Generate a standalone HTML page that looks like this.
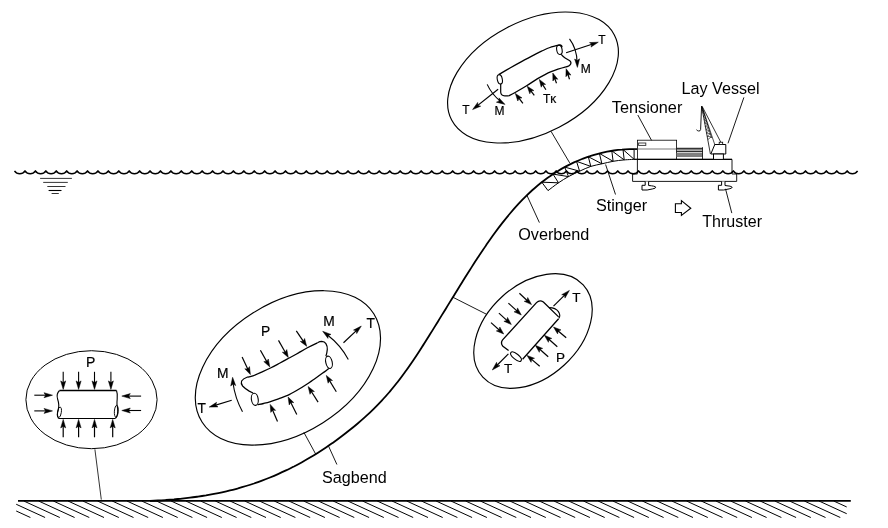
<!DOCTYPE html>
<html><head><meta charset="utf-8"><title>Pipeline laying</title>
<style>
html,body{margin:0;padding:0;background:#fff;}
body{width:888px;height:528px;overflow:hidden;font-family:"Liberation Sans",sans-serif;}
svg{display:block;will-change:transform;}
svg line, svg path, svg ellipse, svg rect{stroke:#000;stroke-linecap:butt;}
svg text{font-family:"Liberation Sans",sans-serif;fill:#000;stroke:none;}
svg text.s{stroke:#000;stroke-width:0.2px;}
</style></head><body>
<svg width="888" height="528" viewBox="0 0 888 528">
<rect x="0" y="0" width="888" height="528" fill="#fff" stroke="none" style="stroke:none"/>
<path d="M14.50 170.90 C17.12 174.85 22.38 174.85 25.00 170.90 C27.61 174.85 32.81 174.85 35.42 170.90 C38.03 174.85 43.23 174.85 45.84 170.90 C48.45 174.85 53.66 174.85 56.26 170.90 C58.87 174.85 64.08 174.85 66.68 170.90 C69.28 174.85 74.50 174.85 77.10 170.90 C79.70 174.85 84.91 174.85 87.52 170.90 C90.12 174.85 95.33 174.85 97.94 170.90 C100.55 174.85 105.75 174.85 108.36 170.90 C110.97 174.85 116.17 174.85 118.78 170.90 C121.38 174.85 126.59 174.85 129.20 170.90 C131.81 174.85 137.01 174.85 139.62 170.90 C142.22 174.85 147.44 174.85 150.04 170.90 C152.64 174.85 157.85 174.85 160.46 170.90 C163.06 174.85 168.27 174.85 170.88 170.90 C173.49 174.85 178.69 174.85 181.30 170.90 C183.91 174.85 189.12 174.85 191.72 170.90 C194.32 174.85 199.53 174.85 202.14 170.90 C204.74 174.85 209.95 174.85 212.56 170.90 C215.16 174.85 220.38 174.85 222.98 170.90 C225.59 174.85 230.80 174.85 233.40 170.90 C236.00 174.85 241.22 174.85 243.82 170.90 C246.42 174.85 251.63 174.85 254.24 170.90 C256.84 174.85 262.05 174.85 264.66 170.90 C267.26 174.85 272.47 174.85 275.08 170.90 C277.69 174.85 282.89 174.85 285.50 170.90 C288.11 174.85 293.31 174.85 295.92 170.90 C298.52 174.85 303.73 174.85 306.34 170.90 C308.94 174.85 314.15 174.85 316.76 170.90 C319.37 174.85 324.57 174.85 327.18 170.90 C329.79 174.85 335.00 174.85 337.60 170.90 C340.21 174.85 345.41 174.85 348.02 170.90 C350.62 174.85 355.83 174.85 358.44 170.90 C361.05 174.85 366.25 174.85 368.86 170.90 C371.47 174.85 376.67 174.85 379.28 170.90 C381.88 174.85 387.09 174.85 389.70 170.90 C392.32 174.85 397.57 174.85 400.19 170.90 C402.81 174.85 408.06 174.85 410.68 170.90 C413.30 174.85 418.55 174.85 421.17 170.90 C423.79 174.85 429.04 174.85 431.66 170.90 C434.28 174.85 439.53 174.85 442.15 170.90 C444.77 174.85 450.02 174.85 452.64 170.90 C455.26 174.85 460.51 174.85 463.13 170.90 C465.75 174.85 471.00 174.85 473.62 170.90 C476.24 174.85 481.49 174.85 484.11 170.90 C486.73 174.85 491.98 174.85 494.60 170.90 C497.17 174.85 502.30 174.85 504.86 170.90 C507.43 174.85 512.56 174.85 515.12 170.90 C517.69 174.85 522.82 174.85 525.38 170.90 C527.95 174.85 533.08 174.85 535.65 170.90 C538.21 174.85 543.34 174.85 545.91 170.90 C548.47 174.85 553.60 174.85 556.17 170.90 C558.73 174.85 563.87 174.85 566.43 170.90 C569.00 174.85 574.13 174.85 576.69 170.90 C579.26 174.85 584.39 174.85 586.95 170.90 C589.52 174.85 594.65 174.85 597.22 170.90 C599.78 174.85 604.91 174.85 607.48 170.90 C610.04 174.85 615.17 174.85 617.74 170.90 C620.30 174.85 625.43 174.85 628.00 170.90 C630.63 174.85 635.90 174.85 638.54 170.90 C641.17 174.85 646.44 174.85 649.07 170.90 C651.71 174.85 656.98 174.85 659.61 170.90 C662.24 174.85 667.51 174.85 670.15 170.90 C672.78 174.85 678.05 174.85 680.68 170.90 C683.32 174.85 688.58 174.85 691.22 170.90 C693.85 174.85 699.12 174.85 701.75 170.90 C704.39 174.85 709.66 174.85 712.29 170.90 C714.92 174.85 720.19 174.85 722.83 170.90 C725.46 174.85 730.73 174.85 733.36 170.90 C736.00 174.85 741.27 174.85 743.90 170.90 C746.39 174.85 751.36 174.85 753.85 170.90 C756.34 174.85 761.31 174.85 763.80 170.90 C766.41 174.85 771.62 174.85 774.22 170.90 C776.83 174.85 782.04 174.85 784.64 170.90 C787.25 174.85 792.46 174.85 795.07 170.90 C797.67 174.85 802.88 174.85 805.49 170.90 C808.09 174.85 813.31 174.85 815.91 170.90 C818.52 174.85 823.73 174.85 826.33 170.90 C828.94 174.85 834.15 174.85 836.76 170.90 C839.36 174.85 844.57 174.85 847.18 170.90 C849.78 174.85 854.99 174.85 857.60 170.90" stroke-width="1.5" fill="none" stroke-linejoin="round"/>
<line x1="40.1" y1="178.4" x2="71.9" y2="178.4" stroke-width="0.80" stroke="#333"/>
<line x1="43.2" y1="182.4" x2="67.8" y2="182.4" stroke-width="0.80" stroke="#333"/>
<line x1="47.3" y1="186.5" x2="65.5" y2="186.5" stroke-width="0.80" stroke="#333"/>
<line x1="48.6" y1="190.5" x2="61.5" y2="190.5" stroke-width="1.10" stroke="#333"/>
<line x1="51.6" y1="193.5" x2="58.8" y2="193.5" stroke-width="0.80" stroke="#333"/>
<line x1="18.0" y1="500.8" x2="850.8" y2="500.8" stroke-width="1.70" />
<clipPath id="sb"><rect x="16.2" y="500" width="830.5" height="18"/></clipPath>
<g clip-path="url(#sb)">
<line x1="-49.8" y1="501.0" x2="-13.8" y2="517.5" stroke-width="1.00" />
<line x1="-35.0" y1="501.0" x2="0.9" y2="517.5" stroke-width="1.00" />
<line x1="-20.3" y1="501.0" x2="15.7" y2="517.5" stroke-width="1.00" />
<line x1="-5.6" y1="501.0" x2="30.4" y2="517.5" stroke-width="1.00" />
<line x1="9.1" y1="501.0" x2="45.1" y2="517.5" stroke-width="1.00" />
<line x1="23.8" y1="501.0" x2="59.8" y2="517.5" stroke-width="1.00" />
<line x1="38.6" y1="501.0" x2="74.6" y2="517.5" stroke-width="1.00" />
<line x1="53.3" y1="501.0" x2="89.3" y2="517.5" stroke-width="1.00" />
<line x1="68.0" y1="501.0" x2="104.0" y2="517.5" stroke-width="1.00" />
<line x1="82.8" y1="501.0" x2="118.8" y2="517.5" stroke-width="1.00" />
<line x1="97.5" y1="501.0" x2="133.5" y2="517.5" stroke-width="1.00" />
<line x1="112.2" y1="501.0" x2="148.2" y2="517.5" stroke-width="1.00" />
<line x1="126.9" y1="501.0" x2="162.9" y2="517.5" stroke-width="1.00" />
<line x1="141.7" y1="501.0" x2="177.7" y2="517.5" stroke-width="1.00" />
<line x1="156.4" y1="501.0" x2="192.4" y2="517.5" stroke-width="1.00" />
<line x1="171.1" y1="501.0" x2="207.1" y2="517.5" stroke-width="1.00" />
<line x1="185.8" y1="501.0" x2="221.8" y2="517.5" stroke-width="1.00" />
<line x1="200.6" y1="501.0" x2="236.6" y2="517.5" stroke-width="1.00" />
<line x1="215.3" y1="501.0" x2="251.3" y2="517.5" stroke-width="1.00" />
<line x1="230.0" y1="501.0" x2="266.0" y2="517.5" stroke-width="1.00" />
<line x1="244.7" y1="501.0" x2="280.7" y2="517.5" stroke-width="1.00" />
<line x1="259.4" y1="501.0" x2="295.4" y2="517.5" stroke-width="1.00" />
<line x1="274.2" y1="501.0" x2="310.2" y2="517.5" stroke-width="1.00" />
<line x1="288.9" y1="501.0" x2="324.9" y2="517.5" stroke-width="1.00" />
<line x1="303.6" y1="501.0" x2="339.6" y2="517.5" stroke-width="1.00" />
<line x1="318.3" y1="501.0" x2="354.3" y2="517.5" stroke-width="1.00" />
<line x1="333.1" y1="501.0" x2="369.1" y2="517.5" stroke-width="1.00" />
<line x1="347.8" y1="501.0" x2="383.8" y2="517.5" stroke-width="1.00" />
<line x1="362.5" y1="501.0" x2="398.5" y2="517.5" stroke-width="1.00" />
<line x1="377.2" y1="501.0" x2="413.2" y2="517.5" stroke-width="1.00" />
<line x1="392.0" y1="501.0" x2="428.0" y2="517.5" stroke-width="1.00" />
<line x1="406.7" y1="501.0" x2="442.7" y2="517.5" stroke-width="1.00" />
<line x1="421.4" y1="501.0" x2="457.4" y2="517.5" stroke-width="1.00" />
<line x1="436.1" y1="501.0" x2="472.1" y2="517.5" stroke-width="1.00" />
<line x1="450.9" y1="501.0" x2="486.9" y2="517.5" stroke-width="1.00" />
<line x1="465.6" y1="501.0" x2="501.6" y2="517.5" stroke-width="1.00" />
<line x1="480.3" y1="501.0" x2="516.3" y2="517.5" stroke-width="1.00" />
<line x1="495.0" y1="501.0" x2="531.0" y2="517.5" stroke-width="1.00" />
<line x1="509.8" y1="501.0" x2="545.8" y2="517.5" stroke-width="1.00" />
<line x1="524.5" y1="501.0" x2="560.5" y2="517.5" stroke-width="1.00" />
<line x1="539.2" y1="501.0" x2="575.2" y2="517.5" stroke-width="1.00" />
<line x1="553.9" y1="501.0" x2="589.9" y2="517.5" stroke-width="1.00" />
<line x1="568.7" y1="501.0" x2="604.7" y2="517.5" stroke-width="1.00" />
<line x1="583.4" y1="501.0" x2="619.4" y2="517.5" stroke-width="1.00" />
<line x1="598.1" y1="501.0" x2="634.1" y2="517.5" stroke-width="1.00" />
<line x1="612.8" y1="501.0" x2="648.8" y2="517.5" stroke-width="1.00" />
<line x1="627.6" y1="501.0" x2="663.6" y2="517.5" stroke-width="1.00" />
<line x1="642.3" y1="501.0" x2="678.3" y2="517.5" stroke-width="1.00" />
<line x1="657.0" y1="501.0" x2="693.0" y2="517.5" stroke-width="1.00" />
<line x1="671.8" y1="501.0" x2="707.8" y2="517.5" stroke-width="1.00" />
<line x1="686.5" y1="501.0" x2="722.5" y2="517.5" stroke-width="1.00" />
<line x1="701.2" y1="501.0" x2="737.2" y2="517.5" stroke-width="1.00" />
<line x1="715.9" y1="501.0" x2="751.9" y2="517.5" stroke-width="1.00" />
<line x1="730.6" y1="501.0" x2="766.6" y2="517.5" stroke-width="1.00" />
<line x1="745.4" y1="501.0" x2="781.4" y2="517.5" stroke-width="1.00" />
<line x1="760.1" y1="501.0" x2="796.1" y2="517.5" stroke-width="1.00" />
<line x1="774.8" y1="501.0" x2="810.8" y2="517.5" stroke-width="1.00" />
<line x1="789.5" y1="501.0" x2="825.5" y2="517.5" stroke-width="1.00" />
<line x1="804.3" y1="501.0" x2="840.3" y2="517.5" stroke-width="1.00" />
<line x1="819.0" y1="501.0" x2="855.0" y2="517.5" stroke-width="1.00" />
<line x1="833.7" y1="501.0" x2="869.7" y2="517.5" stroke-width="1.00" />
<line x1="848.4" y1="501.0" x2="884.4" y2="517.5" stroke-width="1.00" />
</g>
<path d="M150.0 500.8 C151.3 500.8 155.3 500.7 158.0 500.5 C160.7 500.4 163.3 500.2 166.0 500.0 C168.7 499.8 171.3 499.6 174.0 499.4 C176.7 499.1 179.3 498.9 182.0 498.6 C184.7 498.3 187.3 498.0 190.0 497.7 C192.7 497.4 195.3 497.0 198.0 496.6 C200.7 496.2 203.3 495.8 206.0 495.4 C208.7 494.9 211.3 494.4 214.0 493.9 C216.7 493.4 219.3 492.9 222.0 492.3 C224.7 491.7 227.3 491.1 230.0 490.4 C232.7 489.8 235.3 489.1 238.0 488.4 C240.7 487.6 243.3 486.8 246.0 486.0 C248.7 485.2 251.3 484.4 254.0 483.5 C256.7 482.5 259.3 481.6 262.0 480.6 C264.7 479.6 267.3 478.6 270.0 477.5 C272.7 476.4 275.3 475.3 278.0 474.1 C280.7 472.9 283.3 471.7 286.0 470.4 C288.7 469.2 291.3 467.8 294.0 466.5 C296.7 465.1 299.3 463.7 302.0 462.2 C304.7 460.7 307.3 459.2 310.0 457.6 C312.7 456.0 315.3 454.4 318.0 452.7 C320.7 451.0 323.3 449.3 326.0 447.5 C328.7 445.7 331.3 443.8 334.0 441.9 C336.7 440.0 339.3 438.1 342.0 436.0 C344.7 434.0 347.3 432.0 350.0 429.8 C352.7 427.7 355.3 425.5 358.0 423.2 C360.7 421.0 363.3 418.6 366.0 416.2 C368.7 413.8 371.3 411.3 374.0 408.6 C376.7 406.0 379.3 403.3 382.0 400.4 C384.7 397.5 387.3 394.5 390.0 391.4 C392.7 388.2 395.3 384.9 398.0 381.5 C400.7 378.0 403.3 374.4 406.0 370.7 C408.7 367.0 411.3 363.1 414.0 359.2 C416.7 355.2 419.3 351.1 422.0 347.0 C424.7 342.9 427.3 338.6 430.0 334.3 C432.7 330.1 435.3 325.7 438.0 321.4 C440.7 317.1 443.3 312.7 446.0 308.4 C448.7 304.1 451.3 299.7 454.0 295.4 C456.7 291.1 459.3 286.7 462.0 282.5 C464.7 278.2 467.3 273.9 470.0 269.7 C472.7 265.5 475.3 261.4 478.0 257.3 C480.7 253.2 483.3 249.2 486.0 245.4 C488.7 241.5 491.3 237.7 494.0 234.0 C496.7 230.3 499.3 226.8 502.0 223.4 C504.7 219.9 507.3 216.6 510.0 213.5 C512.7 210.3 515.3 207.3 518.0 204.4 C520.7 201.5 523.3 198.7 526.0 196.1 C528.7 193.5 531.3 191.0 534.0 188.7 C536.7 186.3 539.3 184.1 542.0 182.0 C544.7 180.0 547.3 178.0 550.0 176.2 C552.7 174.3 555.3 172.6 558.0 171.0 C560.7 169.3 563.3 167.8 566.0 166.4 C568.7 165.0 571.3 163.7 574.0 162.4 C576.7 161.2 579.3 160.1 582.0 159.0 C584.7 158.0 587.3 157.0 590.0 156.2 C592.7 155.3 595.3 154.5 598.0 153.8 C600.7 153.1 603.3 152.5 606.0 151.9 C608.7 151.4 611.3 150.9 614.0 150.5 C616.7 150.1 619.3 149.8 622.0 149.6 C624.7 149.3 627.5 149.2 630.0 149.1 C632.5 149.0 636.0 149.1 637.2 149.1" stroke-width="1.8" fill="none"/>
<path d="M548.0 190.6 C549.8 189.3 555.1 185.1 558.5 182.8 C561.9 180.5 565.0 178.5 568.5 176.6 C572.0 174.7 575.9 172.9 579.6 171.2 C583.3 169.5 587.1 167.6 590.8 166.4 C594.5 165.2 598.2 164.7 601.9 163.8 C605.6 163.0 609.4 162.0 613.1 161.3 C616.8 160.7 620.2 160.2 624.2 159.9 C628.2 159.6 635.0 159.3 637.2 159.2" stroke-width="1.0" fill="none"/>
<line x1="541.8" y1="182.2" x2="548.0" y2="190.6" stroke-width="1.00" />
<line x1="553.0" y1="174.1" x2="558.5" y2="182.8" stroke-width="1.00" />
<line x1="564.7" y1="167.1" x2="568.5" y2="176.6" stroke-width="1.00" />
<line x1="576.5" y1="161.3" x2="579.6" y2="171.2" stroke-width="1.00" />
<line x1="588.3" y1="156.7" x2="590.8" y2="166.4" stroke-width="1.00" />
<line x1="599.4" y1="153.4" x2="601.9" y2="163.8" stroke-width="1.00" />
<line x1="611.8" y1="150.8" x2="613.1" y2="161.3" stroke-width="1.00" />
<line x1="623.0" y1="149.5" x2="624.2" y2="159.9" stroke-width="1.00" />
<line x1="634.1" y1="149.1" x2="634.1" y2="159.3" stroke-width="1.00" />
<line x1="541.8" y1="182.2" x2="558.5" y2="182.8" stroke-width="1.00" />
<line x1="553.0" y1="174.1" x2="568.5" y2="176.6" stroke-width="1.00" />
<line x1="564.7" y1="167.1" x2="579.6" y2="171.2" stroke-width="1.00" />
<line x1="576.5" y1="161.3" x2="590.8" y2="166.4" stroke-width="1.00" />
<line x1="588.3" y1="156.7" x2="601.9" y2="163.8" stroke-width="1.00" />
<line x1="599.4" y1="153.4" x2="613.1" y2="161.3" stroke-width="1.00" />
<line x1="611.8" y1="150.8" x2="624.2" y2="159.9" stroke-width="1.00" />
<line x1="623.0" y1="149.5" x2="634.1" y2="159.3" stroke-width="1.00" />
<rect x="637.4" y="140.2" width="39.2" height="19.2" stroke-width="0.8" fill="none"/>
<rect x="638.6" y="143.0" width="7.2" height="2.4" stroke-width="0.9" fill="none" style="stroke:#333"/>
<line x1="634.0" y1="149.0" x2="676.6" y2="149.0" stroke-width="0.70" style="stroke:#444"/>
<path d="M634 159.4 H732 V173.8 M637.4 159.4 V173.8" stroke-width="0.9" fill="none"/>
<line x1="637.4" y1="159.4" x2="732.0" y2="159.4" stroke-width="1.30" />
<path d="M637.4 174.0 H632.6 V181.4 H736.7 V174.0 H732" stroke-width="0.9" fill="none"/>
<path d="M645.2 181.4 V185.3 H642.0 V190 H647.2 L652.7 188.9 Q656.0 188.2 655.8 187.2 Q655.2 186 648.6 185.5 V181.4" stroke-width="1" fill="#fff"/>
<path d="M721.6 181.4 V185.3 H718.4 V190 H723.6 L729.1 188.9 Q732.4 188.2 732.2 187.2 Q731.6 186 725.0 185.5 V181.4" stroke-width="1" fill="#fff"/>
<rect x="676.6" y="153.0" width="25.9" height="4.0" fill="#808080" stroke="none" style="stroke:none"/>
<line x1="676.6" y1="148.3" x2="702.5" y2="148.3" stroke-width="1.00" />
<line x1="676.6" y1="149.9" x2="702.5" y2="149.9" stroke-width="0.80" />
<line x1="676.6" y1="151.7" x2="702.5" y2="151.7" stroke-width="1.00" />
<line x1="702.5" y1="147.2" x2="702.5" y2="159.4" stroke-width="0.80" />
<path d="M714.8 144.5 H725.8 V154 H710.8 Z" stroke-width="1" fill="#fff"/>
<rect x="713.5" y="154.0" width="9.9" height="5.4" stroke-width="1" fill="#fff"/>
<rect x="719.2" y="142.2" width="3.5" height="2.3" stroke-width="0.8" fill="#fff"/>
<line x1="701.6" y1="106.0" x2="710.4" y2="154.0" stroke-width="0.80" />
<line x1="702.0" y1="106.6" x2="714.9" y2="145.0" stroke-width="0.70" />
<line x1="701.9" y1="106.3" x2="711.6" y2="138.0" stroke-width="0.70" />
<line x1="702.3" y1="109.8" x2="703.5" y2="111.6" stroke-width="0.60" />
<line x1="703.5" y1="111.6" x2="702.9" y2="113.1" stroke-width="0.60" />
<line x1="702.9" y1="113.1" x2="704.5" y2="114.7" stroke-width="0.60" />
<line x1="704.5" y1="114.7" x2="703.5" y2="116.5" stroke-width="0.60" />
<line x1="703.5" y1="116.5" x2="705.4" y2="117.9" stroke-width="0.60" />
<line x1="705.4" y1="117.9" x2="704.1" y2="119.8" stroke-width="0.60" />
<line x1="704.1" y1="119.8" x2="706.4" y2="121.1" stroke-width="0.60" />
<line x1="706.4" y1="121.1" x2="704.7" y2="123.1" stroke-width="0.60" />
<line x1="704.7" y1="123.1" x2="707.4" y2="124.2" stroke-width="0.60" />
<line x1="707.4" y1="124.2" x2="705.3" y2="126.4" stroke-width="0.60" />
<line x1="705.3" y1="126.4" x2="708.4" y2="127.4" stroke-width="0.60" />
<line x1="708.4" y1="127.4" x2="705.9" y2="129.7" stroke-width="0.60" />
<line x1="705.9" y1="129.7" x2="709.3" y2="130.6" stroke-width="0.60" />
<line x1="709.3" y1="130.6" x2="706.5" y2="133.0" stroke-width="0.60" />
<line x1="706.5" y1="133.0" x2="710.3" y2="133.7" stroke-width="0.60" />
<line x1="710.3" y1="133.7" x2="707.2" y2="136.3" stroke-width="0.60" />
<line x1="707.2" y1="136.3" x2="711.3" y2="136.9" stroke-width="0.60" />
<line x1="711.3" y1="136.9" x2="707.8" y2="139.6" stroke-width="0.60" />
<line x1="702.2" y1="106.5" x2="720.8" y2="142.2" stroke-width="0.80" />
<path d="M701.6 106.3 L700.6 129.6 Q700.4 131.2 698.6 131.0 Q696.9 130.8 696.6 129.6" stroke-width="0.9" fill="none"/>
<line x1="637.8" y1="115.0" x2="651.5" y2="140.3" stroke-width="0.90" />
<line x1="743.9" y1="97.4" x2="728.0" y2="143.3" stroke-width="0.90" />
<line x1="605.6" y1="164.5" x2="615.5" y2="194.5" stroke-width="0.90" />
<line x1="725.5" y1="188.8" x2="731.8" y2="213.1" stroke-width="0.90" />
<line x1="526.8" y1="195.1" x2="539.4" y2="222.6" stroke-width="0.90" />
<line x1="328.4" y1="445.8" x2="336.9" y2="464.5" stroke-width="0.90" />
<path d="M675.4 203.8 H681.4 V200.6 L690.8 208.2 L681.4 215.5 V212.5 H675.4 Z" stroke-width="1.1" fill="none"/>
<text x="681.5" y="93.8" font-size="17.4" text-anchor="start"  textLength="78.1" lengthAdjust="spacingAndGlyphs">Lay Vessel</text>
<text x="611.8" y="113.0" font-size="17.4" text-anchor="start"  textLength="70.5" lengthAdjust="spacingAndGlyphs">Tensioner</text>
<text x="595.9" y="210.6" font-size="17.4" text-anchor="start"  textLength="51.3" lengthAdjust="spacingAndGlyphs">Stinger</text>
<text x="702.3" y="227.2" font-size="17.4" text-anchor="start"  textLength="59.7" lengthAdjust="spacingAndGlyphs">Thruster</text>
<text x="518.2" y="240.0" font-size="17.4" text-anchor="start"  textLength="71.2" lengthAdjust="spacingAndGlyphs">Overbend</text>
<text x="322.0" y="482.7" font-size="17.4" text-anchor="start"  textLength="64.7" lengthAdjust="spacingAndGlyphs">Sagbend</text>
<ellipse cx="533" cy="77.5" rx="91.8" ry="56.2" transform="rotate(-27.6 533 77.5)" stroke-width="1.15" fill="none"/>
<line x1="551.0" y1="131.3" x2="569.7" y2="162.9" stroke-width="0.90" />
<path d="M498.7 74.6 C500.6 73.5 506.2 70.2 510.0 68.0 C513.8 65.8 517.6 63.7 521.5 61.6 C525.4 59.5 529.9 57.1 533.2 55.4 C536.5 53.7 538.7 52.5 541.5 51.2 C544.3 49.9 546.9 48.5 549.9 47.5 C552.9 46.5 558.1 45.3 559.8 44.9" stroke-width="1.3" fill="none"/>
<path d="M508.7 95.8 C509.7 95.3 511.7 94.5 514.7 92.8 C517.7 91.1 522.9 88.1 526.6 85.8 C530.4 83.5 534.1 80.8 537.2 78.9 C540.3 77.0 542.7 75.8 545.0 74.6 C547.3 73.4 549.0 72.6 551.2 71.7 C553.4 70.8 555.7 70.0 558.0 69.2 C560.3 68.5 563.9 67.5 565.1 67.2" stroke-width="1.3" fill="none"/>
<ellipse cx="499.8" cy="79.3" rx="2.5" ry="4.7" transform="rotate(-12 499.8 79.3)" stroke-width="1.1" fill="none"/>
<path d="M500.7 83.9 L500.7 92.3 Q501 95.8 504.7 95.8 L508.7 95.8" stroke-width="1.2" fill="none"/>
<ellipse cx="559.4" cy="49.8" rx="2.7" ry="4.7" transform="rotate(-10 559.4 49.8)" stroke-width="1.1" fill="none"/>
<path d="M559.8 44.9 Q561.8 44.9 562.1 47.2 M561.2 54.4 Q562.8 56.5 565.1 57.9 L569.8 60.8 Q571.6 62.2 570.6 64.2 Q569.6 66.2 565.1 67.2" stroke-width="1.2" fill="none"/>
<line x1="522.9" y1="103.4" x2="517.6" y2="96.4" stroke-width="1.20"/>
<path d="M515.3 93.4 L522.0 97.9 L519.0 98.2 L517.8 101.0 Z" fill="#000" stroke-width="0.5" stroke-linejoin="miter"/>
<line x1="534.3" y1="95.4" x2="529.5" y2="89.2" stroke-width="1.20"/>
<path d="M527.2 86.2 L533.9 90.6 L530.9 91.0 L529.8 93.8 Z" fill="#000" stroke-width="0.5" stroke-linejoin="miter"/>
<line x1="545.9" y1="89.7" x2="541.4" y2="82.6" stroke-width="1.20"/>
<path d="M539.3 79.4 L545.6 84.4 L542.6 84.5 L541.2 87.2 Z" fill="#000" stroke-width="0.5" stroke-linejoin="miter"/>
<line x1="556.5" y1="83.3" x2="554.1" y2="76.6" stroke-width="1.20"/>
<path d="M552.8 73.0 L557.8 79.3 L554.9 78.7 L552.9 81.0 Z" fill="#000" stroke-width="0.5" stroke-linejoin="miter"/>
<line x1="569.5" y1="79.3" x2="567.3" y2="72.3" stroke-width="1.20"/>
<path d="M566.1 68.7 L570.9 75.1 L568.0 74.5 L565.9 76.7 Z" fill="#000" stroke-width="0.5" stroke-linejoin="miter"/>
<line x1="566.1" y1="52.8" x2="594.3" y2="43.5" stroke-width="1.20"/>
<path d="M598.3 42.2 L591.0 47.1 L591.8 44.3 L589.5 42.6 Z" fill="#000" stroke-width="0.5" stroke-linejoin="miter"/>
<line x1="498.1" y1="89.2" x2="475.9" y2="106.9" stroke-width="1.20"/>
<path d="M472.6 109.6 L477.7 102.4 L477.9 105.4 L480.7 106.2 Z" fill="#000" stroke-width="0.5" stroke-linejoin="miter"/>
<path d="M569.5 38.9 Q577.0 49 577.0 62" stroke-width="1.1" fill="none"/>
<path d="M577.4 67.4 L574.6 59.0 L577.2 60.6 L579.6 58.8 Z" fill="#000" stroke-width="0.5" stroke-linejoin="miter"/>
<path d="M487.2 84.4 Q491.5 94 500.5 101.4" stroke-width="1.1" fill="none"/>
<path d="M505.0 104.4 L496.4 102.2 L499.2 100.9 L499.0 97.9 Z" fill="#000" stroke-width="0.5" stroke-linejoin="miter"/>
<text x="601.8" y="43.9" font-size="12.0" text-anchor="middle"  class="s">T</text>
<text x="585.7" y="72.6" font-size="12.0" text-anchor="middle"  class="s">M</text>
<text x="465.8" y="114.1" font-size="12.0" text-anchor="middle"  class="s">T</text>
<text x="499.5" y="115.0" font-size="12.0" text-anchor="middle"  class="s">M</text>
<text x="542.9" y="102.7" font-size="12.0" text-anchor="start"  class="s">Tκ</text>
<ellipse cx="533" cy="331" rx="68.2" ry="46.2" transform="rotate(-42.6 533 331)" stroke-width="1.15" fill="none"/>
<line x1="453.0" y1="297.3" x2="486.4" y2="314.2" stroke-width="0.90" />
<path d="M502.6 339.9 L536.5 302.6 Q539.6 299.4 543.4 302.0 L558.6 316.9 M558.6 318.8 L522.6 359.2 M502.6 339.9 Q500.2 343.2 502.9 346.2 L508.6 350.6" stroke-width="1.3" fill="none"/>
<path d="M549.1 307.6 Q555.6 307.6 558.4 311.6 Q561.0 315.4 558.8 318.4" stroke-width="1.1" fill="none"/>
<ellipse cx="516.0" cy="356.6" rx="6.6" ry="2.7" transform="rotate(40 516 356.6)" stroke-width="1.1" fill="none"/>
<line x1="519.4" y1="293.3" x2="528.7" y2="302.0" stroke-width="1.20"/>
<path d="M531.5 304.6 L524.2 301.3 L527.1 300.5 L527.7 297.5 Z" fill="#000" stroke-width="0.5" stroke-linejoin="miter"/>
<line x1="508.4" y1="303.1" x2="518.5" y2="312.4" stroke-width="1.20"/>
<path d="M521.3 315.0 L514.0 311.8 L516.8 310.9 L517.5 307.9 Z" fill="#000" stroke-width="0.5" stroke-linejoin="miter"/>
<line x1="498.9" y1="313.1" x2="508.5" y2="321.9" stroke-width="1.20"/>
<path d="M511.3 324.5 L503.9 321.3 L506.8 320.4 L507.5 317.4 Z" fill="#000" stroke-width="0.5" stroke-linejoin="miter"/>
<line x1="491.0" y1="322.6" x2="500.9" y2="331.5" stroke-width="1.20"/>
<path d="M503.7 334.0 L496.3 330.9 L499.2 329.9 L499.8 327.0 Z" fill="#000" stroke-width="0.5" stroke-linejoin="miter"/>
<line x1="566.2" y1="337.8" x2="556.4" y2="329.5" stroke-width="1.20"/>
<path d="M553.5 327.0 L561.0 329.9 L558.1 330.9 L557.6 333.9 Z" fill="#000" stroke-width="0.5" stroke-linejoin="miter"/>
<line x1="557.3" y1="346.7" x2="547.2" y2="337.8" stroke-width="1.20"/>
<path d="M544.4 335.3 L551.8 338.4 L549.0 339.3 L548.4 342.3 Z" fill="#000" stroke-width="0.5" stroke-linejoin="miter"/>
<line x1="548.2" y1="356.7" x2="538.1" y2="347.8" stroke-width="1.20"/>
<path d="M535.3 345.3 L542.7 348.4 L539.9 349.3 L539.3 352.3 Z" fill="#000" stroke-width="0.5" stroke-linejoin="miter"/>
<line x1="539.7" y1="366.2" x2="529.9" y2="357.9" stroke-width="1.20"/>
<path d="M527.0 355.4 L534.5 358.3 L531.6 359.3 L531.1 362.3 Z" fill="#000" stroke-width="0.5" stroke-linejoin="miter"/>
<line x1="553.5" y1="306.1" x2="566.4" y2="293.4" stroke-width="1.20"/>
<path d="M569.4 290.4 L565.0 298.1 L564.6 295.2 L561.7 294.7 Z" fill="#000" stroke-width="0.5" stroke-linejoin="miter"/>
<line x1="508.4" y1="353.9" x2="495.3" y2="367.0" stroke-width="1.20"/>
<path d="M492.3 370.0 L496.6 362.3 L497.1 365.2 L500.0 365.7 Z" fill="#000" stroke-width="0.5" stroke-linejoin="miter"/>
<text x="576.4" y="301.9" font-size="13.5" text-anchor="middle"  class="s">T</text>
<text x="508.2" y="372.9" font-size="13.5" text-anchor="middle"  class="s">T</text>
<text x="560.5" y="361.5" font-size="13.5" text-anchor="middle"  class="s">P</text>
<ellipse cx="287.9" cy="367.9" rx="101.5" ry="65.1" transform="rotate(-32.2 287.9 367.9)" stroke-width="1.15" fill="none"/>
<line x1="303.9" y1="432.4" x2="315.7" y2="454.1" stroke-width="0.90" />
<path d="M247.0 377.2 C247.8 377.0 249.7 377.0 252.0 376.2 C254.3 375.4 257.9 373.8 261.0 372.4 C264.1 371.0 267.3 369.6 270.5 368.0 C273.7 366.4 276.8 364.7 280.0 363.0 C283.2 361.3 286.6 359.4 289.7 357.7 C292.8 356.0 295.6 354.5 298.5 352.9 C301.4 351.2 304.2 349.5 307.4 347.8 C310.5 346.1 315.7 343.6 317.4 342.8" stroke-width="1.3" fill="none"/>
<path d="M257.7 404.6 C258.7 404.4 261.5 404.0 263.5 403.5 C265.5 403.0 267.3 402.6 269.8 401.8 C272.3 401.0 275.5 399.9 278.5 398.8 C281.5 397.7 284.5 396.8 287.6 395.4 C290.7 394.0 293.9 392.1 297.0 390.3 C300.1 388.5 303.1 386.6 306.0 384.7 C308.9 382.8 311.8 380.9 314.5 379.0 C317.2 377.1 319.6 375.4 322.0 373.6 C324.4 371.8 327.7 369.3 328.8 368.4" stroke-width="1.3" fill="none"/>
<path d="M317.4 342.8 Q320.0 341.4 321.8 341.4 Q324.6 341.6 325.9 343.6 Q327.6 346.4 327.3 349.4 Q327.0 353 325.9 356.3" stroke-width="1.2" fill="none"/>
<ellipse cx="329.0" cy="362.3" rx="3.2" ry="6.3" transform="rotate(-12 329.0 362.3)" stroke-width="1.1" fill="none"/>
<path d="M247.0 377.2 Q243.2 378.6 241.6 381.0 Q240.6 383.6 242.6 386.0 Q245.4 389 249.2 391.1 L253.0 393.0" stroke-width="1.2" fill="none"/>
<ellipse cx="254.8" cy="399.3" rx="3.4" ry="6.1" transform="rotate(-8 254.8 399.3)" stroke-width="1.1" fill="none"/>
<line x1="242.1" y1="357.1" x2="248.8" y2="371.2" stroke-width="1.20"/>
<path d="M250.4 374.6 L244.8 368.8 L247.8 369.1 L249.5 366.6 Z" fill="#000" stroke-width="0.5" stroke-linejoin="miter"/>
<line x1="260.4" y1="350.2" x2="267.9" y2="363.6" stroke-width="1.20"/>
<path d="M269.8 366.9 L263.8 361.6 L266.8 361.6 L268.3 359.0 Z" fill="#000" stroke-width="0.5" stroke-linejoin="miter"/>
<line x1="278.5" y1="340.4" x2="286.4" y2="354.2" stroke-width="1.20"/>
<path d="M288.3 357.5 L282.3 352.2 L285.3 352.2 L286.8 349.6 Z" fill="#000" stroke-width="0.5" stroke-linejoin="miter"/>
<line x1="296.3" y1="330.8" x2="304.6" y2="343.1" stroke-width="1.20"/>
<path d="M306.7 346.3 L300.3 341.4 L303.3 341.3 L304.6 338.5 Z" fill="#000" stroke-width="0.5" stroke-linejoin="miter"/>
<line x1="277.5" y1="421.5" x2="271.7" y2="407.9" stroke-width="1.20"/>
<path d="M270.2 404.4 L275.6 410.4 L272.6 410.0 L270.8 412.4 Z" fill="#000" stroke-width="0.5" stroke-linejoin="miter"/>
<line x1="296.8" y1="414.5" x2="289.8" y2="400.4" stroke-width="1.20"/>
<path d="M288.1 397.0 L293.8 402.6 L290.8 402.4 L289.2 405.0 Z" fill="#000" stroke-width="0.5" stroke-linejoin="miter"/>
<line x1="318.1" y1="402.1" x2="310.2" y2="389.7" stroke-width="1.20"/>
<path d="M308.1 386.5 L314.4 391.5 L311.4 391.6 L310.0 394.3 Z" fill="#000" stroke-width="0.5" stroke-linejoin="miter"/>
<line x1="336.3" y1="391.7" x2="328.3" y2="378.6" stroke-width="1.20"/>
<path d="M326.3 375.4 L332.5 380.5 L329.5 380.6 L328.1 383.2 Z" fill="#000" stroke-width="0.5" stroke-linejoin="miter"/>
<line x1="343.5" y1="342.7" x2="358.2" y2="328.9" stroke-width="1.20"/>
<path d="M361.3 326.0 L356.7 333.6 L356.3 330.7 L353.5 330.1 Z" fill="#000" stroke-width="0.5" stroke-linejoin="miter"/>
<line x1="231.7" y1="400.2" x2="213.3" y2="405.9" stroke-width="1.20"/>
<path d="M209.2 407.1 L216.6 402.3 L215.7 405.1 L218.0 406.9 Z" fill="#000" stroke-width="0.5" stroke-linejoin="miter"/>
<path d="M348.3 359.4 Q340.5 345 327.5 335.0" stroke-width="1.1" fill="none"/>
<path d="M322.7 331.3 L331.0 334.4 L328.1 335.4 L328.0 338.4 Z" fill="#000" stroke-width="0.5" stroke-linejoin="miter"/>
<path d="M242.5 411.7 Q235.0 398 233.0 383" stroke-width="1.1" fill="none"/>
<path d="M232.6 377.3 L235.7 385.6 L233.1 384.1 L230.7 386.0 Z" fill="#000" stroke-width="0.5" stroke-linejoin="miter"/>
<text x="265.6" y="336.3" font-size="13.8" text-anchor="middle"  class="s">P</text>
<text x="329.0" y="325.6" font-size="13.8" text-anchor="middle"  class="s">M</text>
<text x="370.6" y="328.1" font-size="13.8" text-anchor="middle"  class="s">T</text>
<text x="222.8" y="377.9" font-size="13.8" text-anchor="middle"  class="s">M</text>
<text x="201.7" y="413.3" font-size="13.8" text-anchor="middle"  class="s">T</text>
<ellipse cx="91.5" cy="399.7" rx="65.6" ry="49" stroke-width="1.0" fill="none"/>
<line x1="94.9" y1="449.3" x2="101.3" y2="499.6" stroke-width="0.80" />
<path d="M59.5 390.5 H116.5" stroke-width="1.4" fill="none"/>
<path d="M58.5 418.4 H115.5" stroke-width="1.05" fill="none"/>
<path d="M59.5 390.5 Q56 394 57.6 399 Q59.6 405 58.2 410 Q56.6 415 58.5 418.4" stroke-width="1.1" fill="none"/>
<ellipse cx="59.4" cy="412.3" rx="1.9" ry="5.2" transform="rotate(8 59.4 412.3)" stroke-width="0.9" fill="none"/>
<path d="M116.5 390.5 Q117.8 394 117.2 399 Q116.6 405 117.6 408 Q118.4 415 115.5 418.4" stroke-width="1.1" fill="none"/>
<ellipse cx="116.3" cy="411.3" rx="1.9" ry="6.0" transform="rotate(4 116.3 411.3)" stroke-width="0.9" fill="none"/>
<line x1="63.2" y1="371.8" x2="63.2" y2="385.1" stroke-width="1.10"/>
<path d="M63.2 389.4 L60.7 380.9 L63.2 382.6 L65.7 380.9 Z" fill="#000" stroke-width="0.5" stroke-linejoin="miter"/>
<line x1="78.6" y1="371.8" x2="78.6" y2="385.1" stroke-width="1.10"/>
<path d="M78.6 389.4 L76.1 380.9 L78.6 382.6 L81.1 380.9 Z" fill="#000" stroke-width="0.5" stroke-linejoin="miter"/>
<line x1="94.5" y1="371.8" x2="94.5" y2="385.1" stroke-width="1.10"/>
<path d="M94.5 389.4 L92.0 380.9 L94.5 382.6 L97.0 380.9 Z" fill="#000" stroke-width="0.5" stroke-linejoin="miter"/>
<line x1="110.9" y1="371.8" x2="110.9" y2="385.1" stroke-width="1.10"/>
<path d="M110.9 389.4 L108.4 380.9 L110.9 382.6 L113.4 380.9 Z" fill="#000" stroke-width="0.5" stroke-linejoin="miter"/>
<line x1="63.2" y1="437.3" x2="63.2" y2="423.6" stroke-width="1.20"/>
<path d="M63.2 419.4 L65.7 427.9 L63.2 426.2 L60.7 427.9 Z" fill="#000" stroke-width="0.5" stroke-linejoin="miter"/>
<line x1="78.6" y1="437.3" x2="78.6" y2="423.6" stroke-width="1.20"/>
<path d="M78.6 419.4 L81.1 427.9 L78.6 426.2 L76.1 427.9 Z" fill="#000" stroke-width="0.5" stroke-linejoin="miter"/>
<line x1="94.5" y1="437.3" x2="94.5" y2="423.6" stroke-width="1.20"/>
<path d="M94.5 419.4 L97.0 427.9 L94.5 426.2 L92.0 427.9 Z" fill="#000" stroke-width="0.5" stroke-linejoin="miter"/>
<line x1="112.7" y1="437.3" x2="112.7" y2="423.6" stroke-width="1.20"/>
<path d="M112.7 419.4 L115.2 427.9 L112.7 426.2 L110.2 427.9 Z" fill="#000" stroke-width="0.5" stroke-linejoin="miter"/>
<line x1="34.3" y1="395.2" x2="48.2" y2="395.2" stroke-width="1.10"/>
<path d="M52.5 395.2 L44.0 397.7 L45.7 395.2 L44.0 392.7 Z" fill="#000" stroke-width="0.5" stroke-linejoin="miter"/>
<line x1="34.3" y1="410.9" x2="48.2" y2="410.9" stroke-width="1.10"/>
<path d="M52.5 410.9 L44.0 413.4 L45.7 410.9 L44.0 408.4 Z" fill="#000" stroke-width="0.5" stroke-linejoin="miter"/>
<line x1="141.1" y1="396.1" x2="126.0" y2="396.1" stroke-width="1.10"/>
<path d="M121.8 396.1 L130.3 393.6 L128.6 396.1 L130.3 398.6 Z" fill="#000" stroke-width="0.5" stroke-linejoin="miter"/>
<line x1="141.1" y1="410.5" x2="126.0" y2="410.5" stroke-width="1.10"/>
<path d="M121.8 410.5 L130.3 408.0 L128.6 410.5 L130.3 413.0 Z" fill="#000" stroke-width="0.5" stroke-linejoin="miter"/>
<text x="90.7" y="366.6" font-size="14.0" text-anchor="middle" fill="#333" class="s">P</text>
</svg>
</body></html>
